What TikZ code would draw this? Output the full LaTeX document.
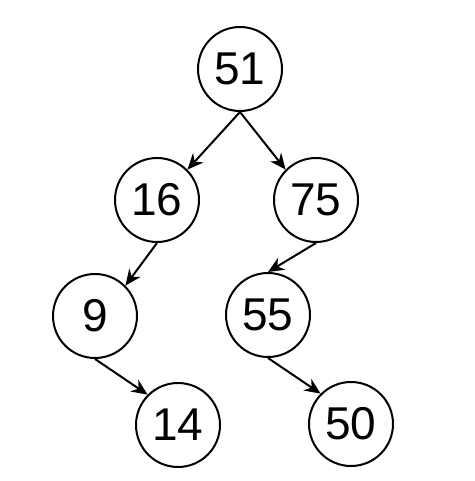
\documentclass[tikz,border=0pt]{standalone}
\usepackage{fontspec}
\setmainfont{Liberation Sans}
\usetikzlibrary{arrows.meta}

\tikzset{
  key/.style={draw, line width=2pt, circle, minimum size=84pt, inner sep=0pt, font=\fontsize{46}{46}\selectfont},
  edge/.style={line width=2pt, -{Stealth[length=16pt,width=14pt]}}
}

\begin{document}
\begin{tikzpicture}[x=1pt,y=-1pt]
\useasboundingbox (0,0) rectangle (474,481);
\node[key] (n51) at (240,69){51};
\node[key] (n16) at (157,200){16};
\node[key] (n75) at (316,200){75};
\node[key] (n9)  at (95,316){9};
\node[key] (n55) at (268,315){55};
\node[key] (n14) at (178,425){14};
\node[key] (n50) at (351,424){50};
\draw[edge] (n51.south)--(n16.north east);
\draw[edge] (n51.south)--(n75.north west);
\draw[edge] (n16.south)--(n9.north east);
\draw[edge] (n75.south)--(n55.north);
\draw[edge] (n9.south)--(n14.north west);
\draw[edge] (n55.south)--(n50.north west);
\end{tikzpicture}
\end{document}
